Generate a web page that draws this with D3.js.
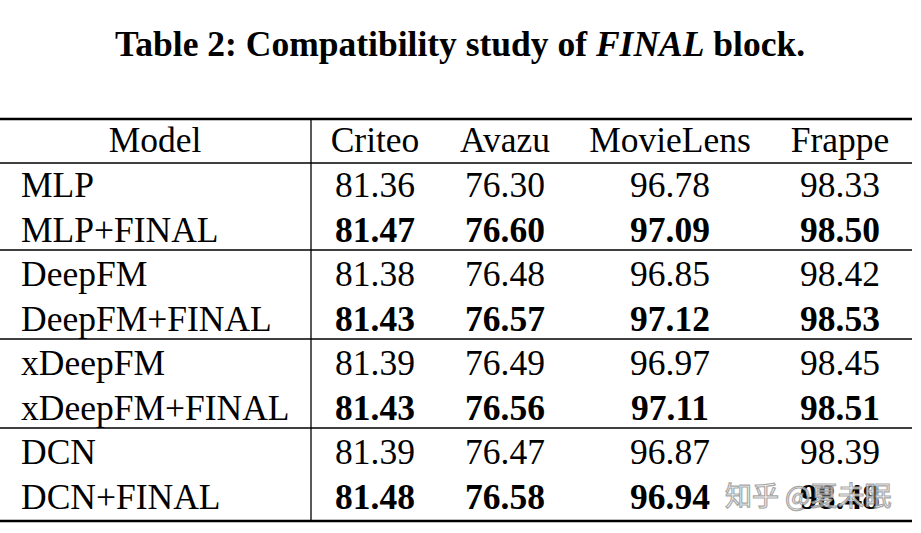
<!DOCTYPE html>
<html><head><meta charset="utf-8">
<script src="https://cdn.jsdelivr.net/npm/d3@7"></script>
<style>body{margin:0;background:#fff}</style>
</head><body><div id="chart"></div>
<script>
// table data
const columns = ["Criteo", "Avazu", "MovieLens", "Frappe"];
const models = ["MLP", "MLP+FINAL", "DeepFM", "DeepFM+FINAL", "xDeepFM", "xDeepFM+FINAL", "DCN", "DCN+FINAL"];
const values = [
  ["81.36", "76.30", "96.78", "98.33"],
  ["81.47", "76.60", "97.09", "98.50"],
  ["81.38", "76.48", "96.85", "98.42"],
  ["81.43", "76.57", "97.12", "98.53"],
  ["81.39", "76.49", "96.97", "98.45"],
  ["81.43", "76.56", "97.11", "98.51"],
  ["81.39", "76.47", "96.87", "98.39"],
  ["81.48", "76.58", "96.94", "98.48"]
];

const width = 921, height = 533;
const font = "'Liberation Serif','Times New Roman',serif";
const fs = 35.5;

const svg = d3.select("#chart").append("svg")
  .attr("width", width).attr("height", height)
  .style("font-family", font);

// title
const title = svg.append("text")
  .attr("x", 460).attr("y", 56)
  .attr("text-anchor", "middle")
  .attr("font-size", fs).attr("font-weight", "bold");
title.append("tspan").text("Table 2: Compatibility study of ");
title.append("tspan").attr("font-style", "italic").text("FINAL");
title.append("tspan").text(" block.");

// column centres and row bands
const colX = d3.scaleOrdinal().domain(columns).range([375, 505, 670, 840]);
const yRow = d3.scaleBand().domain(models).range([163, 519]);

const tableTop = 119, tableBottom = 521, tableLeft = 0, tableRight = 912;

function rule(y, w) {
  svg.append("line").attr("x1", tableLeft).attr("x2", tableRight).attr("y1", y).attr("y2", y)
    .attr("stroke", "#000").attr("stroke-width", w);
}
rule(tableTop, 2.5);
rule(tableBottom, 2.5);
rule(163, 1.3);
[2, 4, 6].forEach(i => rule(yRow(models[i]) - 2, 1.3));
svg.append("line").attr("x1", 311).attr("x2", 311).attr("y1", tableTop).attr("y2", tableBottom)
  .attr("stroke", "#000").attr("stroke-width", 1.3);

// header
svg.append("text").attr("x", 155).attr("y", 152).attr("text-anchor", "middle")
  .attr("font-size", fs).text("Model");
columns.forEach(c => {
  svg.append("text").attr("x", colX(c)).attr("y", 152).attr("text-anchor", "middle")
    .attr("font-size", fs).text(c);
});

// rows
models.forEach((m, i) => {
  const y = yRow(m) + yRow.bandwidth() / 2 + 12;
  const bold = i % 2 === 1;
  svg.append("text").attr("x", 21).attr("y", y).attr("font-size", fs).text(m);
  columns.forEach((c, j) => {
    svg.append("text").attr("x", colX(c)).attr("y", y).attr("text-anchor", "middle")
      .attr("font-size", fs).attr("font-weight", bold ? "bold" : "normal")
      .text(values[i][j]);
  });
});

// watermark
svg.append("text").attr("x", 725).attr("y", 506)
  .attr("font-family", "'Noto Sans CJK SC',sans-serif").attr("font-size", 27)
  .attr("fill", "#fff").attr("stroke", "#999").attr("stroke-width", 1.2)
  .attr("opacity", 0.85).text("知乎 @夏未眠");
</script>
</body></html>
